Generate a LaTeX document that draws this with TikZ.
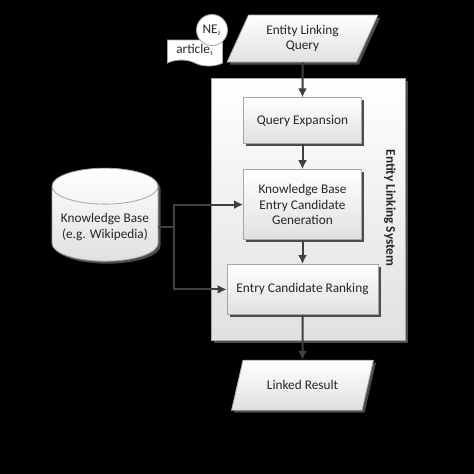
\documentclass[tikz,border=0pt]{standalone}
\usepackage{fontspec}
\setmainfont{Carlito}
\usetikzlibrary{positioning}
\usetikzlibrary{shapes.geometric, shapes.symbols}
\usetikzlibrary{shadows}
\usetikzlibrary{arrows.meta}
\tikzset{
	boxshade/.style={draw=black!35, line width=0.8pt, top color=white, bottom color=black!12, text=black!85,
		drop shadow={shadow xshift=2.5pt, shadow yshift=-2.5pt, fill=black!70, opacity=1}},
	process/.style={boxshade, rectangle, align=center, inner sep=2pt, minimum width=118pt},
	% parallelogram for input and output
	inout/.style={boxshade, trapezium, trapezium left angle=65, trapezium right angle=115, trapezium stretches=true, align=center, minimum height=48pt},
	store/.style={boxshade, cylinder, shape border rotate=90, aspect=0.38, align=center},
	docnode/.style={draw=black!35, line width=0.8pt, fill=white, tape, tape bend top=none, tape bend bottom=out and in, tape bend height=6pt, text=black!85},
}

\begin{document}
\begin{tikzpicture}[x=1pt, y=-1pt, font=\fontsize{13.3}{15.5}\selectfont]
	
	\fill[black] (0,0) rectangle (474,474);
	\useasboundingbox (0,0) rectangle (474,474);
	
	\node (system) [boxshade, rectangle, minimum width=194pt, minimum height=262pt] at (308,209) {};
	\node (sysname) [rotate=-90, font=\fontsize{13.3}{15.5}\selectfont\bfseries, text=black!85] at (390,208) {Entity Linking System};
	
	\node (query) [inout, minimum width=151pt, minimum height=47pt] at (302.5,38.5) {Entity Linking\\Query};
	
	\node (article) [docnode, minimum width=55pt, minimum height=26pt, inner sep=1pt] at (195,50) {article$_i$};
	\node (ne) [draw=black!35, line width=0.8pt, fill=white, circle, minimum size=31pt, inner sep=0pt, text=black!85] at (212,30) {NE$_i$};
	
	\node (qexp) [process, below=35pt of query, minimum height=46pt] {Query Expansion};
	
	\node (gen) [process, below=25pt of qexp, minimum height=70pt] {Knowledge Base\\Entry Candidate\\Generation};
	
	\node (rank) [process, below=24pt of gen, minimum width=151pt, minimum height=50pt] {Entry Candidate Ranking};
	
	\node (result) [inout, below=45pt of rank, minimum width=143pt, minimum height=50pt] {Linked Result};
	
	\node (kb) [store, minimum width=106pt, minimum height=93pt] at (105,227) {Knowledge Base\\(e.g. Wikipedia)};
	
	\coordinate[right=16pt of kb.east] (split);
	
	\begin{scope}[line width=2pt, black!75, ->, >={Latex[length=9pt, width=9pt]}]
		\draw (query) -- (qexp);
		\draw (qexp) -- (gen);
		\draw (gen) -- (rank);
		\draw (rank) -- (result);
		\draw (kb.east) -- (split) |- (gen.west);
		\draw (split) |- (rank.west);
	\end{scope}
	
\end{tikzpicture}
\end{document}
